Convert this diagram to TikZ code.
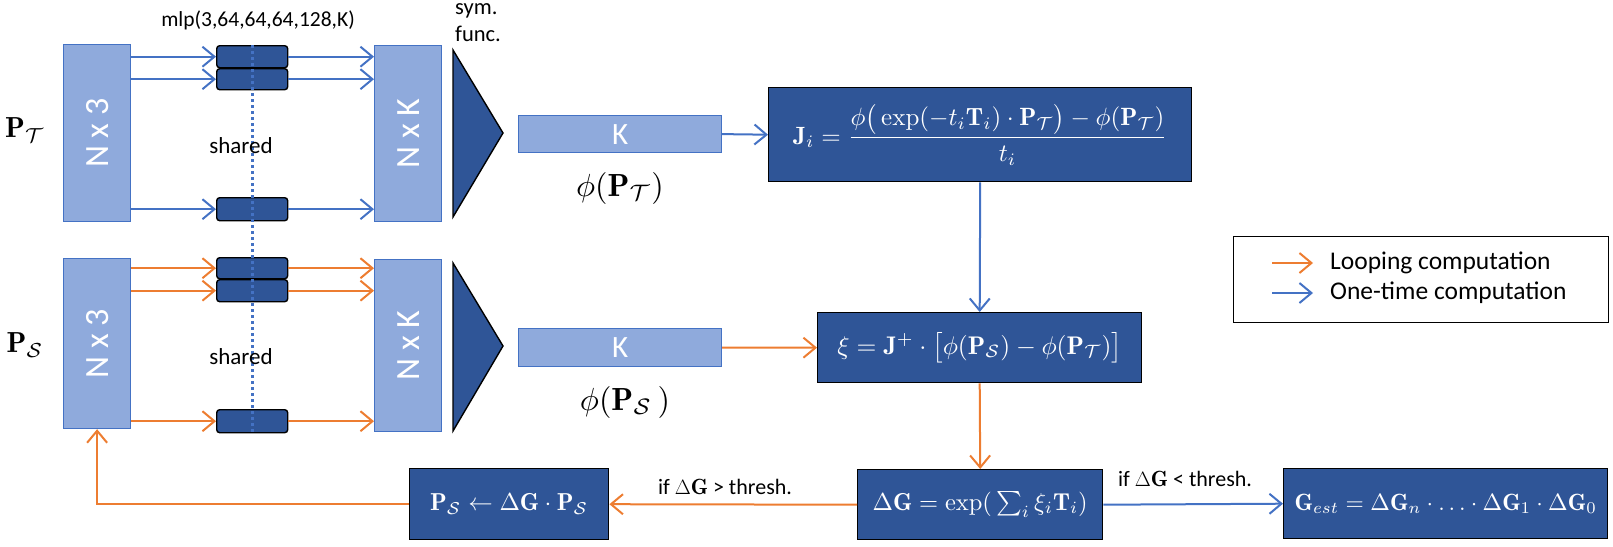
\documentclass[tikz,border=0pt]{standalone}
\usepackage{amsmath}
\usepackage{graphicx}
\usepackage{fontspec}
\newfontfamily\carl{Carlito}
\usetikzlibrary{arrows.meta}
\definecolor{lb}{HTML}{8FAADC}
\definecolor{lbd}{HTML}{4472C4}
\definecolor{db}{HTML}{2F5597}
\definecolor{ab}{HTML}{4472C4}
\definecolor{ao}{HTML}{ED7D31}
\newcommand{\mth}[2]{\scalebox{#1}{$#2$}}
\tikzset{
  lightbox/.style={fill=lb,draw=lbd,line width=1.2pt,inner sep=0pt,anchor=north west,text=white,font=\carl\fontsize{31}{33}\selectfont},
  rottext/.style={rotate=90,text=white,inner sep=0pt,font=\carl\fontsize{34}{36}\selectfont},
  darkbox/.style={fill=db,draw=black,line width=1.4pt,inner sep=0pt,anchor=north west,text=white},
  mlpbox/.style={fill=db,draw=black,line width=1.4pt,rounded corners=3pt,inner sep=0pt,anchor=north west,minimum width=71pt},
  barr/.style={draw=ab,line width=2pt,-{Straight Barb[length=12pt,width=20pt,line width=2pt]}},
  oarr/.style={draw=ao,line width=2pt,-{Straight Barb[length=12pt,width=20pt,line width=2pt]}},
  lab/.style={font=\carl\fontsize{22}{25}\selectfont,inner sep=0pt},
  mlab/.style={inner sep=0pt},
  shareline/.style={draw=ab,line width=3pt,dash pattern=on 3pt off 3pt},
  tri/.style={fill=db,draw=black,line width=1.4pt,line join=miter}
}
\begin{document}
\begin{tikzpicture}[x=1pt,y=-1pt]
\useasboundingbox (0,0) rectangle (1613,546);
% input boxes
\node[lightbox,minimum width=67pt,minimum height=177pt] (nT) at (63,44) {};
\node[rottext] at (nT.center) {N x 3};
\node[lightbox,minimum width=67pt,minimum height=170pt] (nS) at (63,258) {};
\node[rottext] at (nS.center) {N x 3};
% feature boxes
\node[lightbox,minimum width=67pt,minimum height=176pt] (kT) at (374,45) {};
\node[rottext] at (kT.center) {N x K};
\node[lightbox,minimum width=67pt,minimum height=172pt] (kS) at (374,259) {};
\node[rottext] at (kS.center) {N x K};
% mlp boxes
\node[mlpbox,minimum height=22pt] (m1) at (216,45) {};
\node[mlpbox,minimum height=21pt] (m2) at (216,68) {};
\node[mlpbox,minimum height=23pt] (m3) at (216,197) {};
\node[mlpbox,minimum height=21pt] (m4) at (216,257) {};
\node[mlpbox,minimum height=22pt] (m5) at (216,279) {};
\node[mlpbox,minimum height=23pt] (m6) at (216,409) {};
% dotted line and shared text
\draw[shareline] (m1.north) -- (m6.south);
\node[lab,font=\carl\fontsize{23}{25}\selectfont] (sh1) at (241,146) {shared};
\node[lab,font=\carl\fontsize{23}{25}\selectfont] (sh2) at (241,357) {shared};
% arrows into/out of mlp
\foreach \m in {m1,m2,m3} {
  \draw[barr] (nT.east |- \m.west) -- (\m.west);
  \draw[barr] (\m.east) -- (kT.west |- \m.east);
}
\foreach \m in {m4,m5,m6} {
  \draw[oarr] (nS.east |- \m.west) -- (\m.west);
  \draw[oarr] (\m.east) -- (kS.west |- \m.east);
}
% symmetric function triangles
\draw[tri] (453,50) -- (503,133) -- (453,217) -- cycle;
\draw[tri] (453,263) -- (503,346) -- (453,431) -- cycle;
% labels
\node[lab,font=\carl\fontsize{21.5}{24}\selectfont] (mlp) at (258,20) {mlp(3,64,64,64,128,K)};
\node[lab,anchor=west,font=\carl\fontsize{22.5}{25}\selectfont] (sym) at (455,11) {sym.};
\node[lab,anchor=west,font=\carl\fontsize{22.5}{25}\selectfont] (func) at (455,34) {func.};
\node[mlab] (PT) at (25,130) {\mth{2.9}{\mathbf{P}_{\mathcal{T}}}};
\node[mlab] (PS) at (25,345) {\mth{2.9}{\mathbf{P}_{\mathcal{S}}}};
% K boxes
\node[lightbox,minimum width=203pt,minimum height=37pt] (kbT) at (518,115) {K};
\node[lightbox,minimum width=203pt,minimum height=38pt] (kbS) at (518,328) {K};
\node[mlab] (phT) at (620,188) {\mth{3.2}{\phi(\mathbf{P}_{\mathcal{T}})}};
\node[mlab] (phS) at (625,402) {\mth{3.2}{\phi(\mathbf{P}_{\mathcal{S}}\,)}};
% dark boxes
\node[darkbox,minimum width=423pt,minimum height=94pt] (J) at (768,87) {};
\node[text=white,inner sep=0pt] at (J.center)
  {\mth{2.5}{\mathbf{J}_i=\dfrac{\phi\big(\exp(-t_i\mathbf{T}_i)\cdot\mathbf{P}_{\mathcal{T}}\big)-\phi(\mathbf{P}_{\mathcal{T}})}{t_i}}};
\node[darkbox,minimum width=324pt,minimum height=70pt] (xi) at (817,312) {};
\node[text=white,inner sep=0pt] at (xi.center)
  {\mth{2.55}{\xi=\mathbf{J}^{+}\cdot\big[\phi(\mathbf{P}_{\mathcal{S}})-\phi(\mathbf{P}_{\mathcal{T}})\big]}};
\node[darkbox,minimum width=245pt,minimum height=70pt] (dG) at (857,469) {};
\node[text=white,inner sep=0pt] at (dG.center)
  {\mth{2.45}{\Delta\mathbf{G}=\exp(\,\textstyle\sum_i\xi_i\mathbf{T}_i)}};
\node[darkbox,minimum width=199pt,minimum height=71pt] (pu) at (409,468) {};
\node[text=white,inner sep=0pt] at (pu.center)
  {\mth{2.45}{\mathbf{P}_{\mathcal{S}}\leftarrow\Delta\mathbf{G}\cdot\mathbf{P}_{\mathcal{S}}}};
\node[darkbox,minimum width=324pt,minimum height=70pt] (ge) at (1283,468) {};
\node[text=white,inner sep=0pt] at (ge.center)
  {\mth{2.35}{\mathbf{G}_{est}=\Delta\mathbf{G}_n\cdot{\ldots}\cdot\Delta\mathbf{G}_1\cdot\Delta\mathbf{G}_0}};
% connectors
\draw[barr] (kbT.east) -- (J.west);
\draw[oarr] (kbS.east) -- (xi.west);
\draw[barr] (J.south) -- (xi.north);
\draw[oarr] (xi.south) -- (dG.north);
\draw[oarr] (dG.west) -- (pu.east);
\draw[barr] (dG.east) -- (ge.west);
\draw[oarr] (pu.west) -| (nS.south);
\node[lab] (gt) at (725,487) {if $\Delta\mathbf{G}$ > thresh.};
\node[lab] (lt) at (1185,479) {if $\Delta\mathbf{G}$ < thresh.};
% legend
\node[draw=black,line width=1.3pt,anchor=north west,minimum width=375pt,minimum height=86pt,inner sep=0pt] (leg) at (1233,236) {};
\coordinate (l1a) at (1272,263);
\coordinate (l1b) at (1313,263);
\coordinate (l2a) at (1272,293);
\coordinate (l2b) at (1313,293);
\draw[oarr] (l1a) -- (l1b);
\draw[barr] (l2a) -- (l2b);
\node[lab,anchor=west,font=\carl\fontsize{25.5}{28}\selectfont] (lt1) at (1330,263) {Looping computation};
\node[lab,anchor=west,font=\carl\fontsize{25.5}{28}\selectfont] (lt2) at (1330,293) {One-time computation};
\end{tikzpicture}
\end{document}
